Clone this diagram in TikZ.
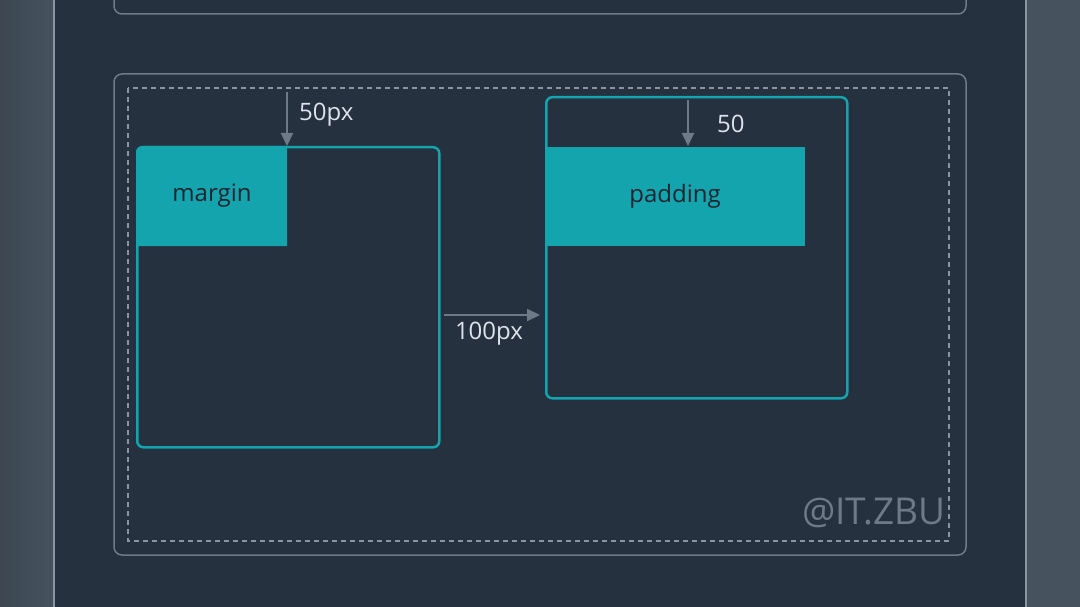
\documentclass[tikz,border=0pt]{standalone}
\usepackage{fontspec}
\setmainfont{Open Sans}
\definecolor{bgmain}{HTML}{263140}
\definecolor{bgside}{HTML}{46535F}
\definecolor{frame}{HTML}{6E7A87}
\definecolor{teal}{HTML}{13A4AE}
\definecolor{txt}{HTML}{DDE3EA}
\definecolor{dark}{HTML}{1E2530}
\usetikzlibrary{arrows.meta}
\tikzset{
 boxline/.style={draw=teal,line width=2.5pt,rounded corners=6pt},
 tealfill/.style={fill=teal,draw=none},
 garrow/.style={draw=frame,line width=2.2pt,-{Triangle[length=13pt,width=12pt]}},
 lbl/.style={text=txt,font=\fontsize{24}{28}\selectfont,inner sep=0pt},
 inlbl/.style={text=dark,font=\fontsize{24}{28}\selectfont,inner sep=0pt},
}
\begin{document}
\begin{tikzpicture}[x=1pt,y=-1pt]
\useasboundingbox (0,0) rectangle (1080,607);
\fill[bgmain] (0,0) rectangle (1080,607);
\fill[left color=bgside!85!black, right color=bgside] (0,0) rectangle (54,607);
\fill[bgside] (1026,0) rectangle (1080,607);
\draw[frame!80,line width=2pt] (54,0) -- (54,607);
\draw[frame!80,line width=2pt] (1026,0) -- (1026,607);
\draw[frame,line width=1.5pt,rounded corners=8pt] (114,-20) rectangle (966,14);
\draw[frame,line width=1.5pt,rounded corners=8pt] (114,74) rectangle (966,555);
\draw[frame!80,line width=1.2pt,dash pattern=on 5pt off 4pt] (128,88) rectangle (949,541);
\node[anchor=south east,text=frame,font=\fontsize{37}{40}\selectfont,inner sep=0pt] (wm) at (946,528) {@IT.ZBU};
% margin box
\fill[tealfill] (136,246) -- (136,152) [rounded corners=6pt] -- (136,146) [sharp corners] -- (287,146) -- (287,246) -- cycle;
\node[boxline,minimum width=302pt,minimum height=300pt,anchor=north west,inner sep=0pt] (mbox) at (136,146) {};
\node[inlbl] (mtxt) at (212,196) {margin};
\coordinate (mtop) at (287,92);
\coordinate (mhit) at (287,146);
\draw[garrow] (mtop) -- (mhit);
\node[lbl,anchor=west] (m50) at (299,115) {50px};
% padding box
\node[boxline,minimum width=301pt,minimum height=301pt,anchor=north west,inner sep=0pt] (pbox) at (545,96) {};
\fill[tealfill] (546,147) rectangle (805,246);
\node[inlbl] (ptxt) at (675,196) {padding};
\coordinate (ptop) at (688,100);
\coordinate (phit) at (688,146);
\draw[garrow] (ptop) -- (phit);
\node[lbl,anchor=west] (p50) at (717,124) {50};
% horizontal
\coordinate (hs) at (444,315);
\coordinate (he) at (540,315);
\draw[garrow] (hs) -- (he);
\node[lbl] (h100) at (489,334) {100px};
\end{tikzpicture}
\end{document}
